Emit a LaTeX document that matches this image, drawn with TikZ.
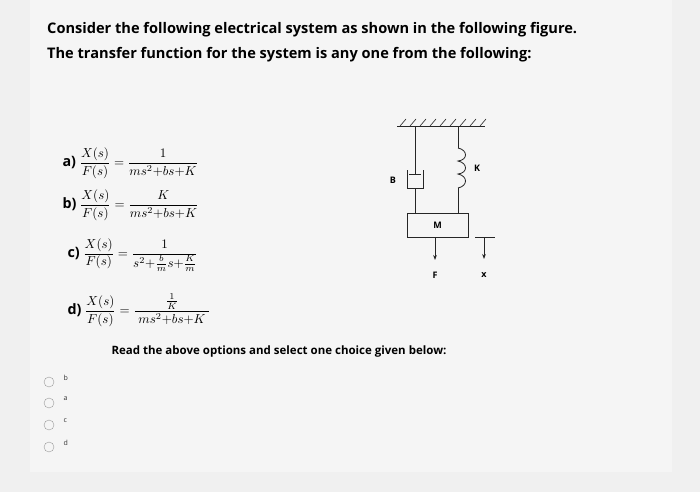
\documentclass[tikz,border=0pt]{standalone}
\usepackage{fix-cm}
\usepackage{fontspec}
\setmainfont{Open Sans}
\usepackage{amsmath}
\usetikzlibrary{arrows.meta}
\begin{document}
\begin{tikzpicture}[x=1pt,y=-1pt,
  eq/.style={font=\fontsize{10}{12}\selectfont, anchor=west, scale=1.3, transform shape},
  mech/.style={line width=0.8pt, draw=black!85},
  radio/.style={circle, draw=black!40, minimum size=10pt, inner sep=0pt},
  opt/.style={font=\fontsize{7}{8}\selectfont, anchor=west, text=black!80}]
\useasboundingbox (0,0) rectangle (700,492);
\fill[black!6] (0,0) rectangle (700,492);
\fill[white!96!black] (30,0) rectangle (672,472);
\node[anchor=north west, text width=530pt, align=justify, font=\fontsize{14.6}{25}\selectfont\bfseries, inner sep=0pt] (q) at (47,22)
 {Consider the following electrical system as shown in the following figure. The transfer function for the system is any one from the following:};
% options
\node[eq] (ea) at (58,163) {\textbf{\fontsize{11}{13}\selectfont a)} $\dfrac{X(s)}{F(s)}=\dfrac{1}{ms^2{+}bs{+}K}$};
\node[eq] (eb) at (58,205) {\textbf{\fontsize{11}{13}\selectfont b)} $\dfrac{X(s)}{F(s)}=\dfrac{K}{ms^2{+}bs{+}K}$};
\node[eq] (ec) at (63,255) {\textbf{\fontsize{11}{13}\selectfont c)} $\dfrac{X(s)}{F(s)}=\dfrac{1}{s^2{+}\frac{b}{m}s{+}\frac{K}{m}}$};
\node[eq] (ed) at (63,310) {\textbf{\fontsize{11}{13}\selectfont d)} $\dfrac{X(s)}{F(s)}=\dfrac{\frac{1}{K}}{\;ms^2{+}bs{+}K\;}$};
% mechanical figure
\coordinate (g1) at (397,126); \coordinate (g2) at (485,126);
\draw[mech] (g1) -- (g2);
\foreach \i in {0,...,8} \draw[mech,line width=0.6pt] (400+\i*10,126) -- (406+\i*10,119);
\node[draw=black!85, line width=0.8pt, minimum width=61pt, minimum height=24pt, inner sep=0pt, font=\fontsize{9}{10}\selectfont\bfseries] (M) at (437.5,225) {M};
% damper
\draw[mech] (415,126) -- (415,174);
\draw[mech] (409,174) -- (421,174);
\draw[mech] (407,170) -- (407,188) -- (423,188) -- (423,170);
\draw[mech] (415,188) -- (415,213);
\node[font=\fontsize{9}{10}\selectfont\bfseries] (B) at (393,180) {B};
% spring
\draw[mech] (458,126) -- (458,148);
\draw[mech] (458,148) .. controls (468,150) and (468,160) .. (458,161)
 .. controls (468,163) and (468,173) .. (458,174)
 .. controls (468,176) and (468,186) .. (458,188);
\draw[mech] (458,188) -- (458,213);
\node[font=\fontsize{9}{10}\selectfont\bfseries] (K) at (477,168) {K};
% force
\coordinate (fE) at (435,260);
\draw[mech,-{Stealth[length=5pt]}] (M.south -| fE) -- (fE);
\node[font=\fontsize{9}{10}\selectfont\bfseries] (F) at (435,275) {F};
\coordinate (xa) at (475,237); \coordinate (xb) at (495,237); \coordinate (xe) at (484,259);
\draw[mech] (xa) -- (xb);
\draw[mech,-{Stealth[length=5pt]}] (484,237) -- (xe);
\node[font=\fontsize{9}{10}\selectfont\bfseries] (X) at (484,275) {x};
% bottom
\node[anchor=west, font=\fontsize{11.5}{13}\selectfont\bfseries] (r) at (108,352) {Read the above options and select one choice given below:};
\foreach \y/\t [count=\k] in {382/b,403/a,425/c,447/d} {
  \node[radio] (c\k) at (49,\y) {};
  \node[opt] (o\k) at (60,\y-4) {\t};
}
\end{tikzpicture}
\end{document}
